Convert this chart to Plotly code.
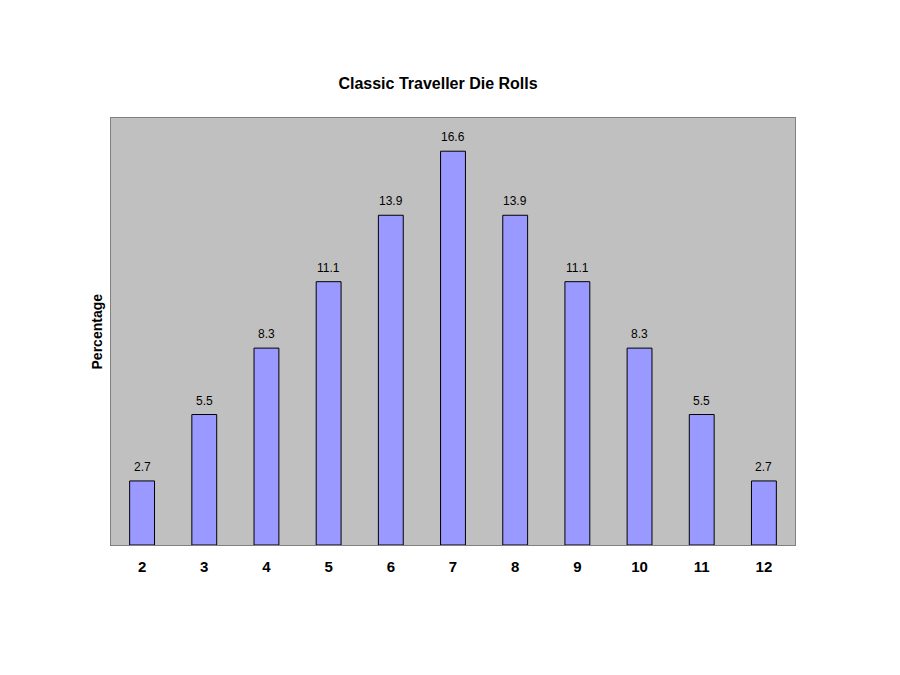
import plotly.graph_objects as go

# Die roll totals and their percentages
rolls = ['2', '3', '4', '5', '6', '7', '8', '9', '10', '11', '12']
percentages = [2.7, 5.5, 8.3, 11.1, 13.9, 16.6, 13.9, 11.1, 8.3, 5.5, 2.7]
chart_title = 'Classic Traveller Die Rolls'
y_title = 'Percentage'

fig = go.Figure(go.Bar(
    x=rolls,
    y=percentages,
    width=0.4,
    marker=dict(color='#9999FF', line=dict(color='black', width=1)),
))

# value labels above each bar (category annotations take the index as x)
labels = [
    dict(
        x=i, y=p, text=f'{p:.1f}', xref='x', yref='y',
        xanchor='center', yanchor='bottom', yshift=5, showarrow=False,
        font=dict(size=12, color='black'),
    )
    for i, p in enumerate(percentages)
]

# page body adds 8px offset, so margins are shifted to compensate
fig.update_layout(
    width=900,
    height=675,
    margin=dict(l=103, r=113, t=110, b=138),
    paper_bgcolor='white',
    plot_bgcolor='#C0C0C0',
    font=dict(family='Liberation Sans, Arial', color='black'),
    showlegend=False,
    title=dict(
        text=f'<b>{chart_title}</b>',
        x=430 / 900, xanchor='center',
        y=1 - 75 / 675, yanchor='middle', yref='container',
        font=dict(size=16, color='black'),
    ),
    annotations=labels + [
        dict(
            text=f'<b>{y_title}</b>',
            x=-0.0205, y=0.5, xref='paper', yref='paper',
            xanchor='center', yanchor='middle',
            textangle=-90, showarrow=False,
            font=dict(size=14, color='black'),
        )
    ],
)

fig.update_xaxes(
    type='category',
    range=[-0.5, 10.5],
    showline=True, linecolor='#808080', linewidth=1, mirror=True,
    showgrid=False, zeroline=False,
    ticks='', ticklabelstandoff=8,
    tickfont=dict(size=15, color='black', weight='bold'),
)
fig.update_yaxes(
    range=[0, 18],
    showline=True, linecolor='#808080', linewidth=1, mirror=True,
    showgrid=False, zeroline=False,
    showticklabels=False, ticks='',
)

fig.write_html('out.html')
